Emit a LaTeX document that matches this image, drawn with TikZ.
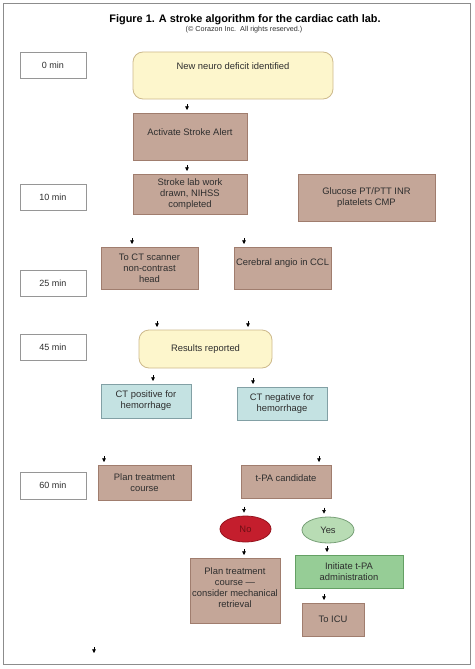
\documentclass[tikz,border=0pt]{standalone}
\usepackage{fontspec}
\setmainfont{Liberation Sans}
\usetikzlibrary{arrows.meta,calc,shapes.geometric}
\definecolor{brownF}{HTML}{C4A698}
\definecolor{brownD}{HTML}{A07D6E}
\definecolor{yellowF}{HTML}{FDF6CC}
\definecolor{yellowD}{HTML}{CDB98C}
\definecolor{tealF}{HTML}{C4E2E2}
\definecolor{tealD}{HTML}{82A0A5}
\definecolor{redF}{HTML}{C41E2D}
\definecolor{redD}{HTML}{96141E}
\definecolor{redT}{HTML}{6E0F14}
\definecolor{yesF}{HTML}{B8DCB4}
\definecolor{yesD}{HTML}{78A078}
\definecolor{initF}{HTML}{96CD96}
\definecolor{initD}{HTML}{64A064}
\definecolor{timeD}{HTML}{969696}
\definecolor{frameD}{HTML}{8C8C8C}
\definecolor{txt}{HTML}{2E2E2E}
\tikzset{
  boxfont/.style={font=\fontsize{9.4}{11}\selectfont},
  base/.style={draw, line width=0.8pt, inner sep=1pt, outer sep=0pt, anchor=north west,
    align=center, text=txt, boxfont},
  brownbox/.style={base, fill=brownF, draw=brownD},
  yellowbox/.style={base, fill=yellowF, draw=yellowD, rounded corners=10pt},
  tealbox/.style={base, fill=tealF, draw=tealD},
  initbox/.style={base, fill=initF, draw=initD},
  timebox/.style={base, fill=white, draw=timeD, font=\fontsize{9}{11}\selectfont},
  noell/.style={ellipse, draw=redD, fill=redF, line width=0.8pt, inner sep=0pt, text=redT, boxfont},
  yesell/.style={ellipse, draw=yesD, fill=yesF, line width=0.8pt, inner sep=0pt, text=txt, boxfont},
  toplabel/.style={anchor=center, align=center, text=txt, boxfont},
  tipline/.style={line width=0.6pt, -{Triangle[width=3.6pt,length=3.6pt]}, shorten >=3pt},
}
\newcommand{\tipat}[2]{\draw[tipline] ($(#1.north west)+(#2,-9)$) -- ($(#1.north west)+(#2,0)$);}
\newcommand{\tipell}[2]{\draw[tipline] ($(#1.north)+(#2,-9)$) -- ($(#1.north)+(#2,0)$);}
\begin{document}
\begin{tikzpicture}[x=1pt,y=-1pt]
\useasboundingbox (0,0) rectangle (474,669);
\draw[frameD, line width=1pt] (3,4) rectangle (470,664);
\node[font=\fontsize{10.9}{12}\selectfont\bfseries, text=black] (title) at (245,20) {Figure 1. A stroke algorithm for the cardiac cath lab.};
\node[font=\fontsize{7.2}{8}\selectfont, text=txt] (sub) at (244,29.5) {(© Corazon Inc.\ \ All rights reserved.)};

% time boxes
\node[timebox, minimum width=66, minimum height=26] (t0) at (20,52) {0 min};
\node[timebox, minimum width=66, minimum height=26] (t10) at (20,184) {10 min};
\node[timebox, minimum width=66, minimum height=26] (t25) at (20,270) {25 min};
\node[timebox, minimum width=66, minimum height=26] (t45) at (20,334) {45 min};
\node[timebox, minimum width=66, minimum height=27] (t60) at (20,472) {60 min};

% flow boxes
\node[yellowbox, minimum width=200, minimum height=47,
  label={[toplabel, yshift=-14pt]north:New neuro deficit identified}] (neuro) at (133,52) {};
\node[brownbox, minimum width=114, minimum height=47,
  label={[toplabel, yshift=-19pt]north:Activate Stroke Alert}] (alert) at (133,113) {};
\node[brownbox, minimum width=114, minimum height=40] (lab) at (133,174) {Stroke lab work\\drawn, NIHSS\\completed};
\node[brownbox, minimum width=137, minimum height=47] (glu) at (298,174) {Glucose PT/PTT INR\\platelets CMP};
\node[brownbox, minimum width=97, minimum height=42] (ct) at (101,247) {To CT scanner\\non-contrast\\head};
\node[brownbox, minimum width=97, minimum height=42,
  label={[toplabel, yshift=-16pt]north:Cerebral angio in CCL}] (angio) at (234,247) {};
\node[yellowbox, minimum width=133, minimum height=38] (results) at (139,330) {Results reported};
\node[tealbox, minimum width=90, minimum height=34] (pos) at (101,384) {CT positive for\\hemorrhage};
\node[tealbox, minimum width=90, minimum height=33] (neg) at (237,387) {CT negative for\\hemorrhage};
\node[brownbox, minimum width=93, minimum height=35] (plan) at (98,465) {Plan treatment\\course};
\node[brownbox, minimum width=90, minimum height=33,
  label={[toplabel, yshift=-13pt]north:t-PA candidate}] (tpa) at (241,465) {};
\node[noell, minimum width=51, minimum height=26] (no) at (245.5,529) {No};
\node[yesell, minimum width=52, minimum height=26] (yes) at (328,530) {Yes};
\node[brownbox, minimum width=90, minimum height=65,
  label={[toplabel, yshift=-29.5pt]north:{Plan treatment\\course —\\consider mechanical\\retrieval}}] (plan2) at (190,558) {};
\node[initbox, minimum width=108, minimum height=33] (init) at (295,555) {Initiate t-PA\\administration};
\node[brownbox, minimum width=62, minimum height=33] (icu) at (302,603) {To ICU};

% arrow tips
\tipat{alert}{54}
\tipat{lab}{54}
\tipat{ct}{31}
\tipat{angio}{10}
\tipat{results}{18}
\tipat{results}{109}
\tipat{pos}{52}
\tipat{neg}{16}
\tipat{plan}{6}
\tipat{tpa}{78}
\tipell{no}{-1.5}
\tipell{yes}{-4}
\tipat{plan2}{54}
\tipat{init}{32}
\tipat{icu}{22}
\coordinate (s1) at (94,647);
\coordinate (s2) at (94,656);
\draw[tipline] (s1) -- (s2);
\end{tikzpicture}
\end{document}
